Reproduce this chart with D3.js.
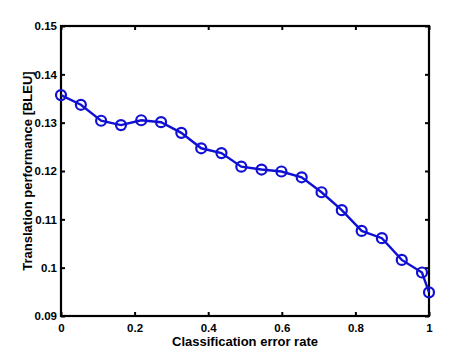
<html>
<head>
<script src="https://d3js.org/d3.v7.min.js"></script>
<style>
  body { margin: 0; background: #fff; }
  text { font-family: "Liberation Sans", Arial, sans-serif; font-weight: bold; fill: #000; }
</style>
</head>
<body>
<script>
// error rate on x, BLEU on y
const errorRate = [0, 0.054, 0.109, 0.163, 0.218, 0.272, 0.327, 0.381, 0.436, 0.49,
                   0.545, 0.599, 0.654, 0.708, 0.763, 0.817, 0.872, 0.926, 0.981, 1.0];
const bleu = [0.1357, 0.1337, 0.1304, 0.1295, 0.1305, 0.1301, 0.1279, 0.1247, 0.1237, 0.1209,
              0.1203, 0.1199, 0.1187, 0.1156, 0.1119, 0.1076, 0.1061, 0.1016, 0.0990, 0.0949];
const xTicks = [0, 0.2, 0.4, 0.6, 0.8, 1];
const yTicks = [0.09, 0.1, 0.11, 0.12, 0.13, 0.14, 0.15];

const W = 474, H = 355;
const margin = {left: 61, right: 45, top: 26, bottom: 39};
const iw = W - margin.left - margin.right;
const ih = H - margin.top - margin.bottom;

const svg = d3.select('body').append('svg')
    .attr('width', W).attr('height', H);

const g = svg.append('g')
    .attr('transform', 'translate(' + margin.left + ',' + margin.top + ')');

const x = d3.scaleLinear().domain([0, 1]).range([0, iw]);
const y = d3.scaleLinear().domain([0.09, 0.15]).range([ih, 0]);

const fmt = d => d3.format('')(+d.toFixed(2));

// bottom & left axes with labels, ticks pointing in
const xAxis = g.append('g')
    .attr('transform', 'translate(0,' + ih + ')')
    .call(d3.axisBottom(x).tickValues(xTicks).tickSizeInner(-4).tickSizeOuter(0).tickPadding(8).tickFormat(fmt));
const yAxis = g.append('g')
    .call(d3.axisLeft(y).tickValues(yTicks).tickSizeInner(-4).tickSizeOuter(0).tickPadding(4).tickFormat(fmt));
// top & right: ticks only
const xTop = g.append('g')
    .call(d3.axisTop(x).tickValues(xTicks).tickSizeInner(-4).tickSizeOuter(0).tickFormat(''));
const yRight = g.append('g')
    .attr('transform', 'translate(' + iw + ',0)')
    .call(d3.axisRight(y).tickValues(yTicks).tickSizeInner(-4).tickSizeOuter(0).tickFormat(''));

[xAxis, yAxis, xTop, yRight].forEach(a => {
  a.select('.domain').remove();
  a.selectAll('line').attr('stroke', '#000').attr('stroke-width', 2);
  a.selectAll('text').style('font-size', '11.5px').style('font-family', '"Liberation Sans", Arial, sans-serif').style('font-weight', 'bold');
});

g.append('rect')
    .attr('x', 0).attr('y', 0).attr('width', iw).attr('height', ih)
    .attr('fill', 'none').attr('stroke', '#000').attr('stroke-width', 2.2);

const pts = errorRate.map((e, i) => [e, bleu[i]]);
const blue = '#1010d4';

g.append('path')
    .datum(pts)
    .attr('d', d3.line().x(d => x(d[0])).y(d => y(d[1])))
    .attr('fill', 'none').attr('stroke', blue).attr('stroke-width', 2.4);

g.selectAll('circle.m')
    .data(pts)
    .enter().append('circle')
    .attr('class', 'm')
    .attr('cx', d => x(d[0])).attr('cy', d => y(d[1]))
    .attr('r', 5)
    .attr('fill', 'none').attr('stroke', blue).attr('stroke-width', 2.2);

svg.append('text')
    .attr('x', margin.left + iw / 2).attr('y', 346)
    .attr('text-anchor', 'middle')
    .style('font-size', '13px')
    .text('Classification error rate');

svg.append('text')
    .attr('transform', 'translate(32,' + (margin.top + ih / 2) + ') rotate(-90)')
    .attr('text-anchor', 'middle')
    .style('font-size', '13px')
    .text('Translation performance [BLEU]');
</script>
</body>
</html>
